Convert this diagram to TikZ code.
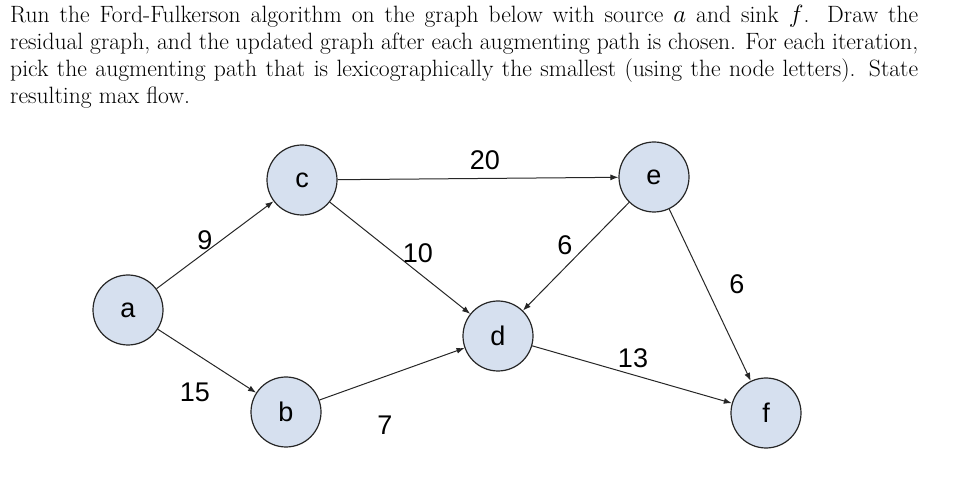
\documentclass[tikz,border=0pt]{standalone}
\usepackage{fontspec}
\newfontfamily\arial{Liberation Sans}
\usetikzlibrary{arrows.meta}
\begin{document}
\begin{tikzpicture}[x=1pt,y=-1pt,
  vert/.style={circle,draw=black!85,line width=1.2pt,fill={rgb,255:red,214;green,224;blue,239},minimum size=70pt,inner sep=0pt,font=\arial\fontsize{27}{30}\selectfont},
  edge/.style={draw=black!85,line width=1pt,-{Latex[length=8pt,width=6pt]}},
  lab/.style={font=\arial\fontsize{27}{30}\selectfont,inner sep=0pt}]
\useasboundingbox (0,0) rectangle (978,486);
\node[anchor=north west,text width=908pt,align=justify,inner sep=0pt,font=\fontsize{23.6}{27}\selectfont] (txt) at (10,5)
{Run the Ford-Fulkerson algorithm on the graph below with source $a$ and sink $f$. Draw the residual graph, and the updated graph after each augmenting path is chosen. For each iteration, pick the augmenting path that is lexicographically the smallest (using the node letters). State resulting max flow.};
\node[vert] (a) at (128,310) {a};
\node[vert] (c) at (302,180) {c};
\node[vert] (e) at (654,177) {e};
\node[vert] (d) at (498,336) {d};
\node[vert] (b) at (286,412) {b};
\node[vert] (f) at (766,413) {f};
\draw[edge] (a) -- (c);
\draw[edge] (a) -- (b);
\draw[edge] (c) -- (e);
\draw[edge] (c) -- (d);
\draw[edge] (e) -- (d);
\draw[edge] (b) -- (d);
\draw[edge] (d) -- (f);
\draw[edge] (e) -- (f);
\node[lab] (l9) at (205,240) {9};
\node[lab] (l10) at (418,253) {10};
\node[lab] (l20) at (485,160) {20};
\node[lab] (l6a) at (565,245) {6};
\node[lab] (l6b) at (737,284) {6};
\node[lab] (l13) at (633,358) {13};
\node[lab] (l15) at (195,392) {15};
\node[lab] (l7) at (385,425) {7};
\end{tikzpicture}
\end{document}
